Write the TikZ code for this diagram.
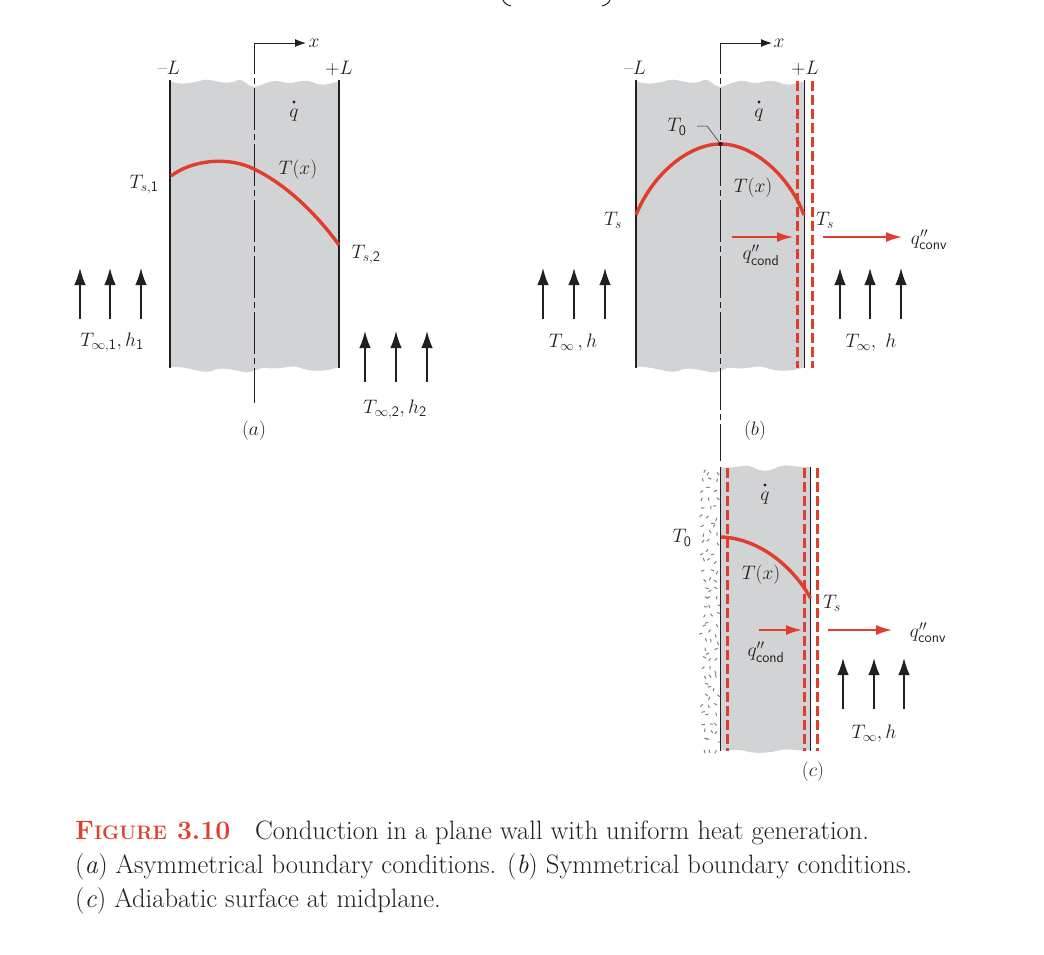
\documentclass[tikz,border=0pt]{standalone}
\usepackage{fix-cm}
\usepackage{amsmath,amssymb}
\usepackage{tikz}
\usetikzlibrary{arrows.meta}
\definecolor{wallgray}{RGB}{209,211,212}
\definecolor{heatred}{RGB}{224,62,45}
\definecolor{inkblack}{RGB}{35,31,32}
\tikzset{
  wallface/.style={fill=wallgray, draw=none},
  wallside/.style={draw=inkblack, line width=1.3pt},
  midline/.style={draw=inkblack, line width=1pt, dash pattern=on 42pt off 4pt on 6pt off 4pt, dash phase=11pt},
  axisline/.style={draw=inkblack, line width=1pt, -{Latex[length=11pt,width=8pt]}},
  flowarrow/.style={draw=inkblack, line width=1.6pt, -{Latex[length=17pt,width=11.5pt]}},
  profile/.style={draw=heatred, line width=3.4pt},
  ctrlsurf/.style={draw=heatred, line width=3pt, dash pattern=on 10pt off 4pt},
  heatarrow/.style={draw=heatred, line width=1.8pt, -{Latex[length=16pt,width=10pt]}},
  qdot/.style={fill=inkblack},
  insul/.style={draw=gray, line width=1pt},
  lbl/.style={inner sep=0pt, text=inkblack, font=\fontsize{19.5}{22}\selectfont},
  capline/.style={inner sep=0pt, anchor=base west, text=inkblack, font=\fontsize{26.6}{34}\selectfont}
}
\newcommand{\sftxt}[1]{\mbox{\fontsize{14.5}{15}\selectfont\sffamily #1}}
\begin{document}
\begin{tikzpicture}[x=1pt, y=-1pt]
  \useasboundingbox (0,0) rectangle (1044,954);
  % cut-off brackets at the top edge
  \draw[inkblack, line width=1pt] (503,0) .. controls (504,3) and (507,5) .. (511,6);
  \draw[inkblack, line width=1pt] (610,0) .. controls (609,3) and (606,5) .. (602,6);
  % (a)
  \fill[wallface] (170,81) .. controls (178,85) and (190,84) .. (203,80) .. controls (212,78) and (226,87) .. (238,80)
    .. controls (243,78) and (248,87) .. (254,87) .. controls (262,86) and (272,78) .. (283,82)
    .. controls (292,86) and (300,78) .. (312,82) .. controls (322,87) and (330,84) .. (339,81)
    -- (339,367) .. controls (325,372) and (310,372) .. (298,367) .. controls (290,365) and (278,370) .. (268,368)
    .. controls (258,366) and (254,374) .. (244,372) .. controls (232,370) and (222,366) .. (212,371)
    .. controls (200,374) and (190,366) .. (170,367) -- cycle;
  \coordinate (aleft top) at (170,80);
  \coordinate (aleft bot) at (170,368);
  \coordinate (aright top) at (339,80);
  \coordinate (aright bot) at (339,368);
  \coordinate (amid bot) at (254.5,403);
  \coordinate (amid top) at (254.5,43);
  \coordinate (ax tip) at (306,43);
  \draw[wallside] (aleft top) -- (aleft bot);
  \draw[wallside] (aright top) -- (aright bot);
  \draw[midline] (amid top) -- (amid bot);
  \draw[axisline] (amid top) -- (ax tip);
  \draw[profile] (171,176) .. controls (192,160) and (228,156) .. (254,169) .. controls (285,184) and (315,212) .. (339,245);
  \node[lbl] (ax) at (314,43) {$x$};
  \node[lbl] (aml) at (169,68) {--$L$};
  \node[lbl] (apl) at (339,68) {$+L$};
  \node[lbl] (aq) at (294,115) {$q$};
  \fill[qdot] (294,102) circle (1.7pt);
  \node[lbl] (atx) at (298,170) {$T(x)$};
  \node[lbl] (ats1) at (144,185) {$T_{s,\sftxt{1}}$};
  \node[lbl] (ats2) at (366,255) {$T_{s,\sftxt{2}}$};
  \node[lbl] (atinf1) at (112,343) {$T_{\infty,\sftxt{1}},h_{\sftxt{1}}$};
  \node[lbl] (atinf2) at (395,410) {$T_{\infty,\sftxt{2}},h_{\sftxt{2}}$};
  \node[lbl] (acap) at (254,431) {$(a)$};
  \foreach \xx in {80,110,141} {
    \draw[flowarrow] (\xx,319) -- (\xx,268);
  }
  \foreach \xx in {365,396,427} {
    \draw[flowarrow] (\xx,382) -- (\xx,331);
  }
  % (b)
  \fill[wallface] (636,81) .. controls (644,85) and (656,84) .. (669,80) .. controls (678,78) and (692,87) .. (704,80)
    .. controls (709,78) and (714,87) .. (720,87) .. controls (728,86) and (738,78) .. (749,82)
    .. controls (758,86) and (766,78) .. (778,82) .. controls (788,87) and (796,84) .. (805,81)
    -- (805,367) .. controls (791,372) and (776,372) .. (764,367) .. controls (756,365) and (744,370) .. (734,368)
    .. controls (724,366) and (720,374) .. (710,372) .. controls (698,370) and (688,366) .. (678,371)
    .. controls (666,374) and (656,366) .. (636,367) -- cycle;
  \coordinate (bleft top) at (636,80);
  \coordinate (bleft bot) at (636,368);
  \coordinate (bright top) at (804.5,80);
  \coordinate (bright bot) at (804.5,368);
  \coordinate (bmid bot) at (720.5,461);
  \coordinate (bmid top) at (720.5,43);
  \coordinate (bx tip) at (772,43);
  \coordinate (bpeak) at (720.5,144);
  \coordinate (blead) at (697,126);
  \draw[wallside] (bleft top) -- (bleft bot);
  \draw[wallside] (bright top) -- (bright bot);
  \draw[midline] (bmid top) -- (bmid bot);
  \draw[axisline] (bmid top) -- (bx tip);
  \draw[ctrlsurf] (797.5,81) -- (797.5,368);
  \draw[ctrlsurf] (812,81) -- (812,368);
  \draw[profile] (636,215) .. controls (652,175) and (688,144) .. (bpeak) .. controls (753,144) and (789,175) .. (804,215);
  \draw[inkblack, line width=0.5pt] (blead) -- (707,126) -- (bpeak);
  \fill[inkblack] (bpeak) circle (2.2pt);
  \node[lbl] (bx) at (779,43) {$x$};
  \node[lbl] (bml) at (635,68) {--$L$};
  \node[lbl] (bpl) at (805,68) {$+L$};
  \node[lbl] (bq) at (759,115) {$q$};
  \fill[qdot] (759,102) circle (1.7pt);
  \node[lbl] (bt0) at (677,127) {$T_{\sftxt{0}}$};
  \node[lbl] (btx) at (753,188) {$T(x)$};
  \node[lbl] (btsl) at (613,220) {$T_{s}$};
  \node[lbl] (btsr) at (825,220) {$T_{s}$};
  \node[lbl] (bcond) at (761,255) {$q''_{\sftxt{cond}}$};
  \node[lbl] (bconv) at (929,240) {$q''_{\sftxt{conv}}$};
  \node[lbl] (btinfl) at (573,343) {$T_{\infty}\,,h$};
  \node[lbl] (btinfr) at (871,343) {$T_{\infty},\ h$};
  \node[lbl] (bcap) at (755,431) {$(b)$};
  \coordinate (bqa) at (732,237);
  \coordinate (bqb) at (793,237);
  \coordinate (bqc) at (823,237);
  \coordinate (bqd) at (902,237);
  \draw[heatarrow] (bqa) -- (bqb);
  \draw[heatarrow] (bqc) -- (bqd);
  \foreach \xx in {543,574,605,840,870,901} {
    \draw[flowarrow] (\xx,319) -- (\xx,268);
  }
  % (c)
  \pgfmathsetseed{310}
  \foreach \row in {0,...,31} {
    \foreach \cc in {704,710,716} {
      \pgfmathsetmacro{\sx}{\cc-2+rnd*4}
      \pgfmathsetmacro{\sy}{470+\row*9-3+rnd*6}
      \pgfmathsetmacro{\sa}{rnd*180}
      \draw[insul] (\sx,\sy) -- ++(\sa:3.4);
    }
  }
  \fill[wallface] (720.5,467) .. controls (732,470) and (745,463) .. (752,467) .. controls (762,472) and (768,472) .. (778,467)
    .. controls (786,463) and (798,468) .. (811,467)
    -- (811,750) .. controls (800,752) and (790,748) .. (780,750) .. controls (770,753) and (755,754) .. (745,751)
    .. controls (735,748) and (728,752) .. (720.5,750) -- cycle;
  \coordinate (cleft top) at (720.5,467);
  \coordinate (cleft bot) at (720.5,751);
  \coordinate (cright top) at (810.7,467);
  \coordinate (cright bot) at (810.7,751);
  \draw[wallside] (cleft top) -- (cleft bot);
  \draw[wallside] (cright top) -- (cright bot);
  \draw[ctrlsurf] (727.5,468) -- (727.5,751);
  \draw[ctrlsurf] (804,468) -- (804,751);
  \draw[ctrlsurf] (817.7,468) -- (817.7,751);
  \draw[profile] (721,537) .. controls (755,538) and (790,562) .. (810.5,598);
  \node[lbl] (cq) at (765,498) {$q$};
  \fill[qdot] (765,485) circle (1.7pt);
  \node[lbl] (ct0) at (682,538) {$T_{\sftxt{0}}$};
  \node[lbl] (ctx) at (761,575) {$T(x)$};
  \node[lbl] (cts) at (832,603) {$T_{s}$};
  \node[lbl] (ccond) at (766,652) {$q''_{\sftxt{cond}}$};
  \node[lbl] (cconv) at (928,633) {$q''_{\sftxt{conv}}$};
  \node[lbl] (ctinf) at (874,734) {$T_{\infty},h$};
  \node[lbl] (ccap) at (813,772) {$(c)$};
  \coordinate (cqa) at (759,630);
  \coordinate (cqb) at (802,630);
  \coordinate (cqc) at (828,630);
  \coordinate (cqd) at (892,630);
  \draw[heatarrow] (cqa) -- (cqb);
  \draw[heatarrow] (cqc) -- (cqd);
  \foreach \xx in {843,874,904} {
    \draw[flowarrow] (\xx,709) -- (\xx,658);
  }
  % caption
  \node[capline, text=heatred] (figno) at (75,839.5) {\bfseries F{\fontsize{19.5}{24}\selectfont IGURE} 3.10};
  \node[capline] (capa) at (255,839.5) {Conduction in a plane wall with uniform heat generation.};
  \node[capline] (capb) at (75,873.5) {(\textit{a}) Asymmetrical boundary conditions. (\textit{b}) Symmetrical boundary conditions.};
  \node[capline] (capc) at (75,907.5) {(\textit{c}) Adiabatic surface at midplane.};
\end{tikzpicture}
\end{document}
